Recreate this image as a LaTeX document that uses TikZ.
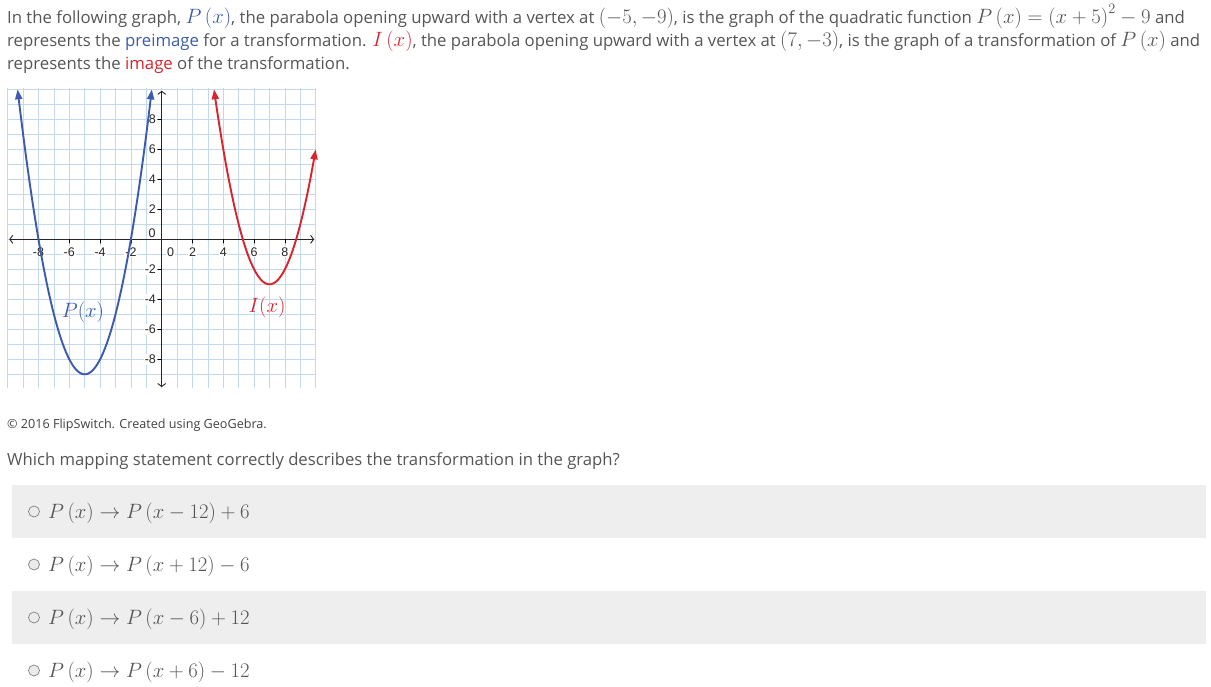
\documentclass[tikz,border=0pt]{standalone}
\usepackage{fontspec}
\setmainfont{Open Sans}
\newfontfamily\axisfont{Liberation Sans}
\usetikzlibrary{arrows.meta}
\definecolor{txtgray}{HTML}{555555}
\definecolor{pblue}{HTML}{3C5AAE}
\definecolor{ired}{HTML}{D9232D}
\definecolor{gridblue}{HTML}{C2D8EE}
\definecolor{bandgray}{HTML}{EEEEEE}
\newcommand{\mth}[1]{{\fontsize{20}{24}\selectfont$#1$}}
\tikzset{
  para/.style={anchor=base west,inner sep=0pt,text=txtgray,font=\fontsize{16.75}{20}\selectfont},
  ticklabel/.style={fill=white,inner sep=1pt,text=black!85,font=\axisfont\fontsize{12.5}{13}\selectfont},
  axisline/.style={line width=0.9pt,black!85,{Straight Barb[length=3pt,width=8pt]}-{Straight Barb[length=3pt,width=8pt]}},
  curve/.style={line width=1.9pt,{Triangle[length=10pt,width=7pt]}-{Triangle[length=10pt,width=7pt]}},
  radio/.style={circle,draw=black!50,fill=black!8,minimum size=11pt,inner sep=0pt,line width=0.7pt},
  option/.style={anchor=base west,inner sep=0pt,text=txtgray,font=\fontsize{20}{24}\selectfont}
}
\begin{document}
\begin{tikzpicture}[x=1pt,y=-1pt,line cap=round,line join=round]
\useasboundingbox (0,0) rectangle (1211,686);
\node[para] (intro1) at (7,23) {In the following graph, \mth{\color{pblue}P\left(x\right)}, the parabola opening upward with a vertex at \mth{\left(-5,-9\right)}, is the graph of the quadratic function \mth{P\left(x\right)=\left(x+5\right)^2-9} and};
\node[para] (intro2) at (7,46) {represents the {\color{pblue}preimage} for a transformation. \mth{\color{ired}I\left(x\right)}, the parabola opening upward with a vertex at \mth{\left(7,-3\right)}, is the graph of a transformation of \mth{P\left(x\right)} and};
\node[para] (intro3) at (7,69) {represents the {\color{ired}image} of the transformation.};
\begin{scope}[shift={(161.7pt,-239.3pt)},x=15.4pt,y=15pt]
\fill[white] (-10,-9.91) rectangle (10,10.08);
\foreach \i in {-10,...,10}
  \draw[gridblue,line width=0.8pt] (\i,-9.91) -- (\i,10.08);
\foreach \j in {-9,...,10}
  \draw[gridblue,line width=0.8pt] (-10,\j) -- (10,\j);
\draw[axisline] (-9.9,0) -- (9.9,0);
\draw[axisline] (0,-9.85) -- (0,9.9);
\foreach \v in {-8,-6,-4,-2,2,4,6,8} {
  \draw[line width=0.8pt] (\v,0) -- (\v,-0.25);
  \draw[line width=0.8pt] (0,\v) -- (-0.25,\v);
  \node[ticklabel] (xlab\v) at (\v,-0.83) {\v};
  \node[ticklabel,anchor=east] (ylab\v) at (-0.3,\v) {\v};
}
\node[ticklabel] (xlab0) at (0.58,-0.83) {0};
\node[ticklabel] (ylab0) at (-0.62,0.4) {0};
\draw[curve,pblue] plot[domain=-9.359:-0.641,samples=90] (\x,{(\x+5)^2-9});
\draw[curve,ired] plot[domain=3.394:10,samples=90] (\x,{(\x-7)^2-3});
\node[text=pblue,font=\fontsize{20}{22}\selectfont] (plabel) at (-5.11,-4.85) {$P(x)$};
\node[text=ired,font=\fontsize{20}{22}\selectfont] (ilabel) at (6.84,-4.51) {$I(x)$};
\end{scope}
\node[anchor=base west,inner sep=0pt,text=black!75,font=\fontsize{12.6}{15}\selectfont] (credit) at (7,428) {© 2016 FlipSwitch. Created using GeoGebra.};
\node[para,font=\fontsize{16.7}{20}\selectfont] (question) at (7,465) {Which mapping statement correctly describes the transformation in the graph?};
\fill[bandgray] (12,485) rectangle (1206,538);
\fill[bandgray] (12,591) rectangle (1206,644);
\node[radio] (radio1) at (34,511.5) {};
\node[radio] (radio2) at (34,564.5) {};
\node[radio] (radio3) at (34,617.5) {};
\node[radio] (radio4) at (34,670.5) {};
\node[option] (opt1) at (48,518) {$P\left(x\right)\rightarrow P\left(x-12\right)+6$};
\node[option] (opt2) at (48,571) {$P\left(x\right)\rightarrow P\left(x+12\right)-6$};
\node[option] (opt3) at (48,624) {$P\left(x\right)\rightarrow P\left(x-6\right)+12$};
\node[option] (opt4) at (48,677) {$P\left(x\right)\rightarrow P\left(x+6\right)-12$};
\end{tikzpicture}
\end{document}
